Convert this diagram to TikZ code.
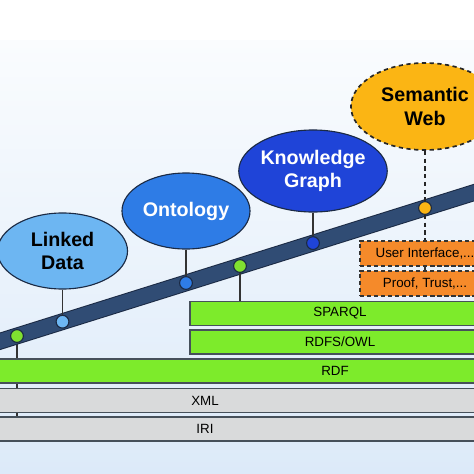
\documentclass[tikz,border=0pt]{standalone}
\usepackage{fontspec}
\setmainfont{Liberation Sans}
\usetikzlibrary{shapes.geometric, backgrounds}

\definecolor{bgtop}{HTML}{FAFCFE}
\definecolor{bgbottom}{HTML}{DCEAF9}
\definecolor{ldblue}{HTML}{6DB6F2}
\definecolor{ontblue}{HTML}{2E7CE6}
\definecolor{kgblue}{HTML}{1F44D8}
\definecolor{swyellow}{HTML}{FBB514}
\definecolor{barblue}{HTML}{304C74}
\definecolor{baredge}{HTML}{1B2A44}
\definecolor{stepgreen}{HTML}{80E030}
\definecolor{layergreen}{HTML}{7DEB2B}
\definecolor{layergray}{HTML}{D9DADB}
\definecolor{layeredge}{HTML}{46505A}
\definecolor{boxorange}{HTML}{F58A2A}

\tikzset{
  concept/.style={ellipse, draw=baredge, line width=0.8pt, inner sep=0pt, align=center,
    font=\fontsize{14}{16.5}\selectfont\bfseries},
  milestone/.style={circle, draw=baredge, line width=0.8pt, minimum size=0.32cm, inner sep=0pt},
  greenlayer/.style={rectangle, draw=layeredge, fill=layergreen, line width=1.1pt,
    minimum height=0.6cm, inner sep=0pt, font=\fontsize{9.5}{11}\selectfont},
  graylayer/.style={greenlayer, fill=layergray},
  orangebox/.style={greenlayer, fill=boxorange, draw=black!80, dash pattern=on 3pt off 2pt,
    minimum width=3.25cm, minimum height=0.625cm},
  link/.style={draw=black!80, line width=0.8pt},
  dashlink/.style={draw=black!85, line width=1.2pt, dash pattern=on 3pt off 2.5pt},
}

\begin{document}
\begin{tikzpicture}[x=0.025cm, y=-0.025cm]
  \useasboundingbox (0,0) rectangle (474,474);
  \begin{pgfonlayer}{background}
    \fill[white] (0,0) rectangle (474,474);
    \shade[top color=bgtop, bottom color=bgbottom] (0,40) rectangle (474,474);
  \end{pgfonlayer}
  \clip (0,0) rectangle (474,474);

  % the rising bar
  \coordinate (barL) at (-10,344.4);
  \coordinate (barR) at (490,187.6);
  \draw[line width=0.42cm, draw=baredge] (barL) -- (barR);
  \draw[line width=0.37cm, draw=barblue] (barL) -- (barR);

  % milestones on the bar
  \node[milestone, fill=stepgreen] (m1) at (17,336) {};
  \node[milestone, fill=ldblue] (m2) at (62.5,321.7) {};
  \node[milestone, fill=ontblue] (m3) at (186,283) {};
  \node[milestone, fill=stepgreen] (m4) at (240,266) {};
  \node[milestone, fill=kgblue] (m5) at (313,243.1) {};
  \node[milestone, fill=swyellow] (m6) at (425,208) {};

  % concepts
  \node[concept, fill=ldblue, minimum width=3.25cm, minimum height=1.9cm] (ldata) at (62.5,251) {Linked\\Data};
  \node[concept, fill=ontblue, text=white, minimum width=3.2cm, minimum height=1.9cm] (onto) at (186,211) {Ontology};
  \node[concept, fill=kgblue, text=white, minimum width=3.525cm, minimum height=2.05cm] (kgraph) at (313,171) {Knowledge\\Graph};
  \node[concept, fill=swyellow, draw=black!85, line width=1.2pt, dash pattern=on 3pt off 2.5pt,
    minimum width=3.7cm, minimum height=2.175cm] (sweb) at (425,106.5) {Semantic\\Web};

  % layers of the stack
  \node[graylayer, minimum width=14cm] (iri) at (205,429) {IRI};
  \node[graylayer, minimum width=14cm] (xml) at (205,400.5) {XML};
  \node[greenlayer, minimum width=17.5cm] (rdf) at (335,371) {RDF};
  \node[greenlayer, minimum width=7.5cm] (rdfs) at (340,342) {RDFS/OWL};
  \node[greenlayer, minimum width=7.5cm] (sparql) at (340,313.5) {SPARQL};
  \node[orangebox] (proof) at (425,283.5) {Proof, Trust,...};
  \node[orangebox] (ui) at (425,253.5) {User Interface,...};

  % connectors
  \draw[link] (ldata) -- (m2);
  \draw[link] (onto) -- (m3);
  \draw[link] (kgraph) -- (m5);
  \draw[dashlink] (sweb) -- (m6);
  \draw[dashlink] (m6) -- (ui);
  \draw[link] (ui) -- (proof);
  \draw[link] (m4) -- (m4 |- sparql.north);
  \begin{pgfonlayer}{background}
    \draw[link] (m1) -- (m1 |- iri.north);
  \end{pgfonlayer}
\end{tikzpicture}
\end{document}
